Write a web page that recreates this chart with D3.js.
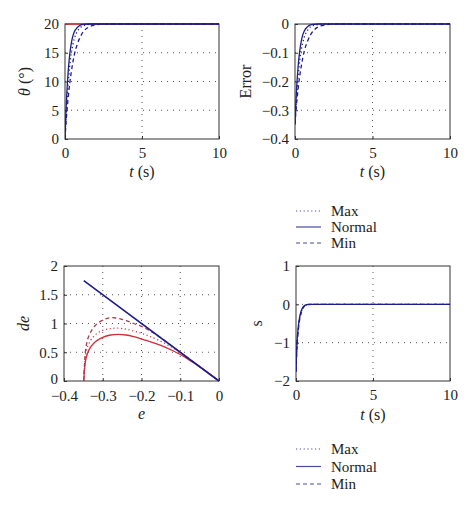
<!DOCTYPE html>
<html><head><meta charset="utf-8">
<script src="https://cdn.jsdelivr.net/npm/d3@7"></script>
<style>
body{margin:0;background:#fff;}
</style></head>
<body><svg id="c" width="474" height="511"></svg>
<script>
// ---- data ----
const tTime = [0, 0.05, 0.1, 0.2, 0.3, 0.4, 0.5, 0.6, 0.8, 1.0, 1.2, 1.5, 2, 2.5, 3, 10];
const thetaRef = [20, 20, 20, 20, 20, 20, 20, 20, 20, 20, 20, 20, 20, 20, 20, 20];
const thetaNormal = [0, 4.0, 7.0, 11.5, 14.5, 16.5, 17.8, 18.6, 19.4, 19.8, 19.95, 20, 20, 20, 20, 20];
const thetaMax = [0, 3.0, 5.5, 9.5, 12.5, 14.8, 16.3, 17.4, 18.7, 19.4, 19.7, 19.9, 20, 20, 20, 20];
const thetaMin = [0, 2.2, 4.0, 7.0, 9.5, 11.5, 13.2, 14.6, 16.5, 17.8, 18.7, 19.4, 19.85, 19.98, 20, 20];
const errNormal = [-0.349, -0.279, -0.227, -0.148, -0.096, -0.061, -0.038, -0.024, -0.010, -0.003, -0.001, 0, 0, 0, 0, 0];
const errMax = [-0.349, -0.297, -0.253, -0.183, -0.131, -0.091, -0.065, -0.045, -0.023, -0.010, -0.005, -0.002, 0, 0, 0, 0];
const errMin = [-0.349, -0.311, -0.279, -0.227, -0.183, -0.148, -0.119, -0.094, -0.061, -0.038, -0.023, -0.010, -0.003, -0.0003, 0, 0];
const sTime = [0, 0.03, 0.06, 0.1, 0.15, 0.2, 0.3, 0.4, 0.5, 0.6, 0.8, 1.0, 10];
const sNormal = [-1.75, -1.35, -1.05, -0.8, -0.58, -0.42, -0.22, -0.11, -0.05, -0.02, -0.003, 0, 0];
const sMax = [-1.75, -1.38, -1.1, -0.84, -0.62, -0.46, -0.25, -0.13, -0.06, -0.025, -0.005, 0, 0];
const sMin = [-1.75, -1.42, -1.15, -0.9, -0.68, -0.5, -0.28, -0.15, -0.07, -0.03, -0.006, 0, 0];
const phaseLineE = [-0.349, 0];
const phaseLineDe = [1.745, 0];
const phaseNormalE = [-0.349, -0.347, -0.343, -0.335, -0.32, -0.3, -0.28, -0.26, -0.24, -0.22, -0.2, -0.18, -0.15, -0.12, -0.1, -0.08, -0.06, -0.04, -0.02, 0];
const phaseNormalDe = [0, 0.2, 0.4, 0.55, 0.68, 0.76, 0.8, 0.81, 0.8, 0.77, 0.73, 0.69, 0.62, 0.53, 0.46, 0.38, 0.29, 0.2, 0.1, 0];
const phaseMaxE = [-0.349, -0.347, -0.343, -0.335, -0.32, -0.3, -0.28, -0.26, -0.24, -0.22, -0.2, -0.18, -0.15, -0.12, -0.1, -0.08, -0.06, -0.04, -0.02, 0];
const phaseMaxDe = [0, 0.25, 0.5, 0.66, 0.8, 0.88, 0.91, 0.92, 0.9, 0.87, 0.83, 0.78, 0.69, 0.58, 0.5, 0.4, 0.3, 0.2, 0.1, 0];
const phaseMinE = [-0.349, -0.347, -0.343, -0.335, -0.32, -0.3, -0.28, -0.26, -0.24, -0.22, -0.2, -0.18, -0.15, -0.12, -0.1, -0.08, -0.06, -0.04, -0.02, 0];
const phaseMinDe = [0, 0.3, 0.6, 0.8, 0.96, 1.06, 1.1, 1.09, 1.05, 1.0, 0.95, 0.88, 0.75, 0.6, 0.5, 0.4, 0.3, 0.2, 0.1, 0];
const legendLabels = ["Max", "Normal", "Min"];
const tTicks = [0, 5, 10];
const thetaTicks = [0, 5, 10, 15, 20];
const errTicks = [-0.4, -0.3, -0.2, -0.1, 0];
const eTicks = [-0.4, -0.3, -0.2, -0.1, 0];
const deTicks = [0, 0.5, 1, 1.5, 2];
const sTicks = [-2, -1, 0, 1];

const FONT = "'Liberation Serif', 'DejaVu Serif', 'Times New Roman', serif";
const svg = d3.select("#c").attr("font-family", FONT);
const BLUE = "#1c1c8c", RED = "#d42a3a", RED_DOT = "#c8405a", RED_DASH = "#a83c4c", FRAME = "#333";
const styles = {Max: "1.2,2.6", Normal: null, Min: "4,3"};

function fmt(v){ return (v < 0 ? "\u2212" : "") + String(Math.abs(v)); }

function panel(o){
  const x = d3.scaleLinear().domain(o.xd).range([o.x0, o.x1]);
  const y = d3.scaleLinear().domain(o.yd).range([o.y1, o.y0]);
  const g = svg.append("g");
  o.xt.forEach(v => { if (x(v) > o.x0 + 1 && x(v) < o.x1 - 1)
    g.append("line").attr("x1", x(v)).attr("x2", x(v)).attr("y1", o.y0).attr("y2", o.y1)
      .attr("stroke", "#555").attr("stroke-width", 1).attr("stroke-dasharray", "1,5"); });
  o.yt.forEach(v => { if (y(v) > o.y0 + 1 && y(v) < o.y1 - 1)
    g.append("line").attr("x1", o.x0).attr("x2", o.x1).attr("y1", y(v)).attr("y2", y(v))
      .attr("stroke", "#555").attr("stroke-width", 1).attr("stroke-dasharray", "1,5"); });
  const ax = d3.axisBottom(x).tickValues(o.xt).tickSize(-3).tickPadding(o.xpad || 8).tickFormat(fmt);
  const ay = d3.axisLeft(y).tickValues(o.yt).tickSize(-3).tickPadding(6).tickFormat(fmt);
  const gx = g.append("g").attr("transform", `translate(0,${o.y1})`).call(ax);
  const gy = g.append("g").attr("transform", `translate(${o.x0},0)`).call(ay);
  [gx, gy].forEach(a => { a.attr("font-family", FONT).attr("font-size", 15);
    a.select(".domain").remove();
    a.selectAll("line").attr("stroke", FRAME);
    a.selectAll("text").attr("font-family", FONT).attr("font-size", 15).attr("fill", "#222"); });
  if (o.lowShift) gy.selectAll("text").filter(d => d === o.yd[0]).attr("y", -o.lowShift);
  g.append("rect").attr("x", o.x0).attr("y", o.y0).attr("width", o.x1 - o.x0).attr("height", o.y1 - o.y0)
    .attr("fill", "none").attr("stroke", FRAME).attr("stroke-width", 1);
  const clipId = "clip" + Math.round(o.x0) + Math.round(o.y0);
  svg.append("clipPath").attr("id", clipId).append("rect")
    .attr("x", o.x0).attr("y", o.y0 - 1.5).attr("width", o.x1 - o.x0).attr("height", o.y1 - o.y0 + 3);
  o.series.forEach(s => {
    const ln = d3.line().x((d, i) => x(s.xs[i])).y(d => y(d))
      .curve(o.phase ? d3.curveCatmullRom : d3.curveMonotoneX);
    g.append("path").datum(s.ys).attr("d", ln).attr("fill", "none")
      .attr("stroke", s.color).attr("stroke-width", s.w || 1.3)
      .attr("stroke-dasharray", s.dash).attr("clip-path", `url(#${clipId})`);
  });
  const xl = g.append("text").attr("x", (o.x0 + o.x1) / 2).attr("y", o.y1 + 38)
    .attr("text-anchor", "middle").attr("font-size", 16).attr("fill", "#222");
  o.xlab(xl);
  const yl = g.append("text").attr("transform", `translate(${o.ylx},${(o.y0 + o.y1) / 2}) rotate(-90)`)
    .attr("text-anchor", "middle").attr("font-size", 16).attr("fill", "#222");
  o.ylab(yl);
  return {x, y};
}

function tLabel(t){ t.append("tspan").attr("font-style", "italic").text("t"); t.append("tspan").text(" (s)"); }

panel({x0: 65, x1: 219, y0: 24, y1: 139, xd: [0, 10], yd: [0, 20], xt: tTicks, yt: thetaTicks, ylx: 30,
  xlab: tLabel,
  ylab: t => { t.append("tspan").attr("font-style", "italic").text("\u03B8"); t.append("tspan").text(" (\u00B0)"); },
  series: [
    {xs: tTime, ys: thetaRef, color: RED, dash: null, w: 1.6},
    {xs: tTime, ys: thetaMax, color: BLUE, dash: styles.Max},
    {xs: tTime, ys: thetaNormal, color: BLUE, dash: styles.Normal},
    {xs: tTime, ys: thetaMin, color: BLUE, dash: styles.Min}
  ]});

panel({x0: 295, x1: 450, y0: 24, y1: 139, xd: [0, 10], yd: [-0.4, 0], xt: tTicks, yt: errTicks, ylx: 251,
  xlab: tLabel,
  ylab: t => t.text("Error"),
  series: [
    {xs: tTime, ys: errMax, color: BLUE, dash: styles.Max},
    {xs: tTime, ys: errNormal, color: BLUE, dash: styles.Normal},
    {xs: tTime, ys: errMin, color: BLUE, dash: styles.Min}
  ]});

panel({x0: 64, x1: 219, y0: 266, y1: 381, xd: [-0.4, 0], yd: [0, 2], xt: eTicks, yt: deTicks, ylx: 29, phase: true,
  xpad: 9, lowShift: 2,
  xlab: t => t.attr("y", 419).attr("font-style", "italic").text("e"),
  ylab: t => t.attr("font-style", "italic").text("de"),
  series: [
    {xs: phaseMaxE, ys: phaseMaxDe, color: RED_DOT, dash: styles.Max},
    {xs: phaseNormalE, ys: phaseNormalDe, color: RED, dash: styles.Normal},
    {xs: phaseMinE, ys: phaseMinDe, color: RED_DASH, dash: styles.Min},
    {xs: phaseLineE, ys: phaseLineDe, color: BLUE, dash: null, w: 1.6}
  ]});

panel({x0: 296, x1: 450, y0: 266, y1: 381, xd: [0, 10], yd: [-2, 1], xt: tTicks, yt: sTicks, ylx: 262,
  xlab: t => { t.attr("y", 420); tLabel(t); },
  ylab: t => t.text("s"),
  series: [
    {xs: sTime, ys: sMax, color: BLUE, dash: styles.Max},
    {xs: sTime, ys: sNormal, color: BLUE, dash: styles.Normal},
    {xs: sTime, ys: sMin, color: BLUE, dash: styles.Min}
  ]});

function legend(y0, gap){
  const g = svg.append("g");
  legendLabels.forEach((lab, i) => {
    const yy = y0 + i * gap;
    g.append("line").attr("x1", 296).attr("x2", 321).attr("y1", yy).attr("y2", yy)
      .attr("stroke", "#4a4a9a").attr("stroke-width", 1.2).attr("stroke-dasharray", styles[lab]);
    g.append("text").attr("x", 331).attr("y", yy + 5).attr("font-size", 15).attr("fill", "#222").text(lab);
  });
}
legend(211, 16);
legend(449, 17.5);
</script></body></html>
